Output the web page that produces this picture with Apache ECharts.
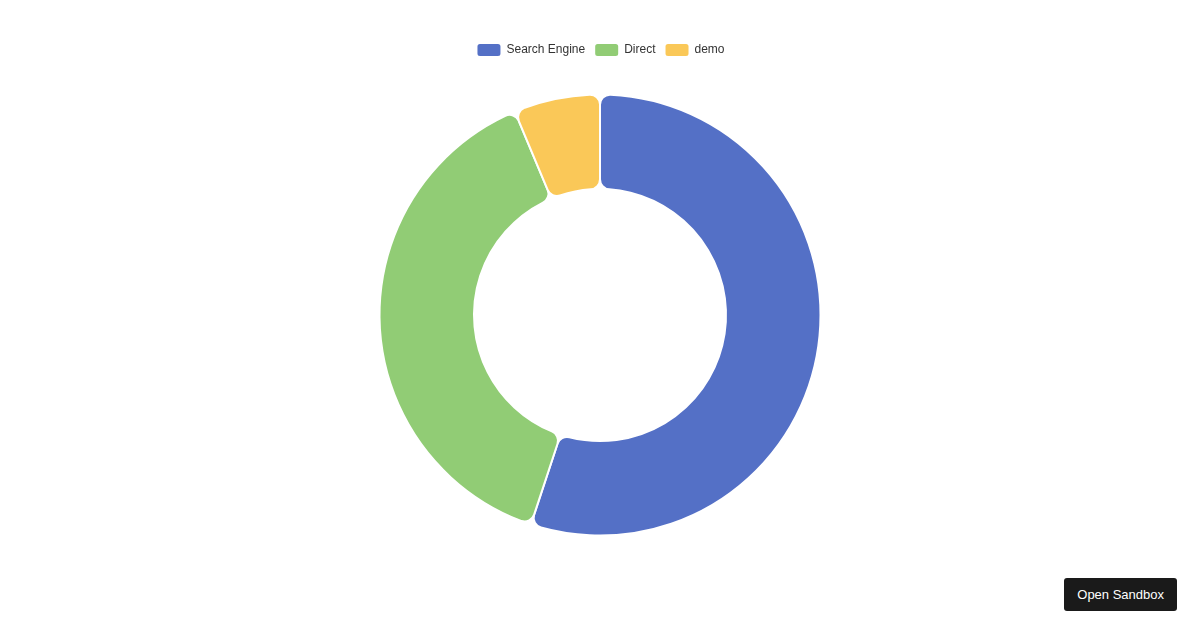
<!DOCTYPE html>
<html style="height: 100%">
<head>
    <meta charset="utf-8">
    <script src="https://cdn.jsdelivr.net/npm/echarts@6/dist/echarts.min.js"></script>
</head>
<body style="height: 100%; margin: 0">
<div id="container" style="height: 100%"></div>
<div style="position:absolute;right:23px;bottom:19px;background:#1a1a1a;color:#fff;font:13px 'Liberation Sans',Arial,sans-serif;padding:9px 13px;border-radius:3px">Open Sandbox</div>
<script type="text/javascript">
    // data
    let names = ['Search Engine', 'Direct', 'demo']
    let values = [1048, 735, 120]
    let colors = ['#5470c6', '#91cc75', '#fac858']

    let chart = echarts.init(document.getElementById('container'))

    chart.setOption({
        color: colors,
        legend: {
            top: 37,
            textStyle: { fontFamily: 'Liberation Sans', fontSize: 12, color: '#333' }
        },
        series: [
            {
                type: 'pie',
                radius: ['40%', '70%'],
                center: ['50%', '50%'],
                avoidLabelOverlap: false,
                itemStyle: { borderRadius: 10, borderColor: '#fff', borderWidth: 2 },
                label: { show: false },
                labelLine: { show: false },
                data: names.map(function (n, i) { return { name: n, value: values[i] } })
            }
        ]
    })
</script>
</body>
</html>
